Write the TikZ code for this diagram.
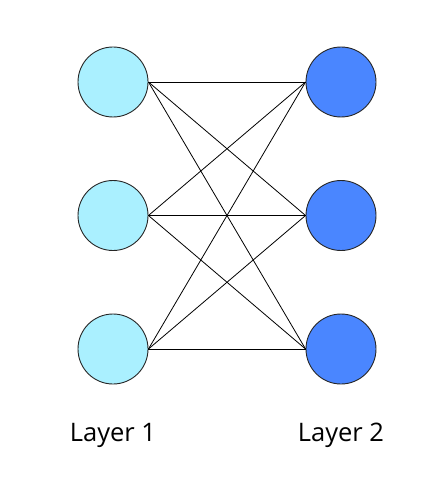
\documentclass[tikz,border=0pt]{standalone}
\usepackage{fontspec}
\setmainfont{Open Sans}
\usepackage{tikz}
\usetikzlibrary{positioning}
\definecolor{inlight}{HTML}{AAF0FF}
\definecolor{outblue}{HTML}{4A86FF}
\tikzset{
    node distance=133.5pt, % centre to centre, vertical
    neuron/.style={circle, draw=black!85, line width=0.9pt, minimum size=70pt, inner sep=0pt},
    inneuron/.style={neuron, fill=inlight},
    outneuron/.style={neuron, fill=outblue},
    layername/.style={font=\fontsize{25.5}{30}\selectfont, inner sep=0pt},
}

\begin{document}
\begin{tikzpicture}
        % Frame
        \useasboundingbox (0,0) rectangle (435pt,-492pt);
        % Nodes
        \node[inneuron] (L1) at (113pt,-82pt) {};
        \node[inneuron, below of=L1] (L2) {};
        \node[inneuron, below of=L2] (L3) {};
        \node[outneuron, right of=L1, node distance=228pt] (R1) {};
        \node[outneuron, below of=R1] (R2) {};
        \node[outneuron, below of=R2] (R3) {};

        % Labels
        \node[layername, below of=L3, node distance=92.5pt, anchor=base] (T1) {Layer 1};
        \node[layername, below of=R3, node distance=92.5pt, anchor=base] (T2) {Layer 2};

        % Draw lines
        \foreach \i in {1,2,3}
            \foreach \j in {1,2,3}
                \draw[line width=0.8pt] (L\i.east) -- (R\j.west);
    \end{tikzpicture}
\end{document}
